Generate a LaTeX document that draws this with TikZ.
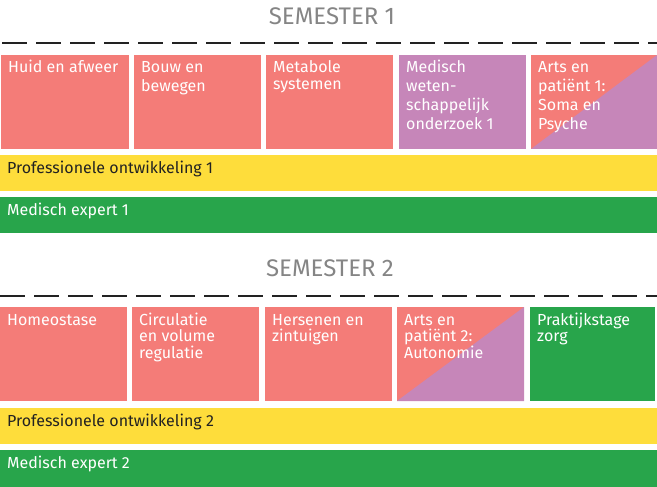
\documentclass[tikz,border=0pt]{standalone}
\usepackage{fontspec}
\setmainfont{Fira Sans}
\usetikzlibrary{calc}
\definecolor{cred}{HTML}{F47C78}
\definecolor{cpurple}{HTML}{C686B9}
\definecolor{cyellow}{HTML}{FEDD3B}
\definecolor{cgreen}{HTML}{28A54B}
\definecolor{cgray}{HTML}{858585}
\definecolor{cdash}{HTML}{222222}
\newcommand\boxlines[1]{\parbox[t]{118pt}{\raggedright #1}}
\begin{document}
\begin{tikzpicture}[x=1pt,y=-1pt,
  blk/.style={inner sep=0pt, outer sep=0pt, anchor=north west, minimum height=94pt, minimum width=127pt},
  bar/.style={inner sep=0pt, outer sep=0pt, anchor=north west, minimum height=36pt, minimum width=657pt},
  wtxt/.style={inner sep=0pt, anchor=base west, text=white, font=\fontsize{16}{19}\selectfont},
  wtxtt/.style={wtxt, font=\fontsize{16}{16.5}\selectfont},
  dtxt/.style={wtxt, text=cdash},
  title/.style={inner sep=0pt, text=cgray, font=\fontsize{24}{28}\selectfont},
  sep/.style={draw=cdash, line width=2.6pt, dash pattern=on 25pt off 9pt}
]
\useasboundingbox (0,0) rectangle (657,487);
% ---------- Semester 1
\node[title] (s1) at (332,16) {SEMESTER 1};
\coordinate (d1a) at (2,43);
\coordinate (d1b) at (657,43);
\draw[sep] (d1a) -- (d1b);
\node[blk, fill=cred, minimum width=128pt] (a1) at (1,55) {};
\node[blk, fill=cred] (a2) at (134,55) {};
\node[blk, fill=cred] (a3) at (266,55) {};
\node[blk, fill=cpurple] (a4) at (399,55) {};
\node[blk, fill=cred, minimum width=126pt] (a5) at (531,55) {};
\fill[cpurple] (a5.south west) -- (a5.north east) -- (a5.south east) -- cycle;
\node[wtxt] (ta1) at ($(a1.north west)+(7,18)$) {\boxlines{Huid en afweer}};
\node[wtxt] (ta2) at ($(a2.north west)+(7,18)$) {\boxlines{Bouw en\\bewegen}};
\node[wtxtt] (ta3) at ($(a3.north west)+(7,18)$) {\boxlines{Metabole\\systemen}};
\node[wtxt] (ta4) at ($(a4.north west)+(7,18)$) {\boxlines{Medisch\\weten-\\schappelijk\\onderzoek 1}};
\node[wtxt] (ta5) at ($(a5.north west)+(7,18)$) {\boxlines{Arts en\\patiënt 1:\\Soma en\\Psyche}};
\node[bar, fill=cyellow] (y1) at (0,155) {};
\node[dtxt] (ty1) at ($(y1.north west)+(7,18)$) {Professionele ontwikkeling 1};
\node[bar, fill=cgreen] (g1) at (0,197) {};
\node[wtxt] (tg1) at ($(g1.north west)+(7,18)$) {Medisch expert 1};
% ---------- Semester 2
\node[title] (s2) at (330,268) {SEMESTER 2};
\coordinate (d2a) at (0,296);
\coordinate (d2b) at (657,296);
\draw[sep] (d2a) -- (d2b);
\node[blk, fill=cred] (b1) at (0,307) {};
\node[blk, fill=cred] (b2) at (132,307) {};
\node[blk, fill=cred] (b3) at (265,307) {};
\node[blk, fill=cred] (b4) at (397,307) {};
\node[blk, fill=cgreen, minimum width=125pt] (b5) at (530,307) {};
\fill[cpurple] (b4.south west) -- (b4.north east) -- (b4.south east) -- cycle;
\node[wtxt] (tb1) at ($(b1.north west)+(7,18)$) {\boxlines{Homeostase}};
\node[wtxtt] (tb2) at ($(b2.north west)+(7,18)$) {\boxlines{Circulatie\\en volume\\regulatie}};
\node[wtxtt] (tb3) at ($(b3.north west)+(7,18)$) {\boxlines{Hersenen en\\zintuigen}};
\node[wtxtt] (tb4) at ($(b4.north west)+(7,18)$) {\boxlines{Arts en\\patiënt 2:\\Autonomie}};
\node[wtxtt] (tb5) at ($(b5.north west)+(7,18)$) {\boxlines{Praktijkstage\\zorg}};
\node[bar, fill=cyellow] (y2) at (0,408) {};
\node[dtxt] (ty2) at ($(y2.north west)+(7,18)$) {Professionele ontwikkeling 2};
\node[bar, fill=cgreen, minimum height=37pt] (g2) at (0,450) {};
\node[wtxt] (tg2) at ($(g2.north west)+(7,18)$) {Medisch expert 2};
\end{tikzpicture}
\end{document}
